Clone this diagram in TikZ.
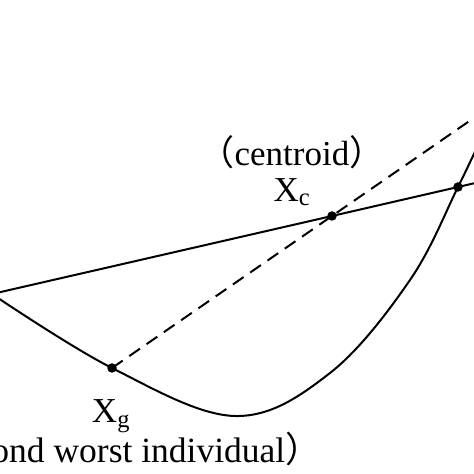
\documentclass[tikz,border=0pt]{standalone}
\usepackage{fontspec}
\setmainfont{Liberation Serif}
\newfontfamily\cjk{Noto Sans CJK SC}
\begin{document}
\begin{tikzpicture}[
  x=1pt, y=1pt,
  dot/.style={circle, fill, inner sep=0pt, minimum size=9.5pt},
  txt/.style={inner sep=0pt, font=\fontsize{35}{40}\selectfont},
  edge/.style={line width=2pt},
  guide/.style={line width=2pt, dash pattern=on 13pt off 8pt}
]
  \useasboundingbox (0,0) rectangle (474,474);
  \clip (0,0) rectangle (474,474);

  \coordinate (A) at (-8,180);
  \coordinate (M) at (235,58);
  \coordinate (Q) at (330,101);
  \coordinate (R) at (410,194);
  \coordinate (E) at (485,344);
  \coordinate (F) at (490,294.4);
  \coordinate (G) at (490,367.2);

  \node[dot] (xg) at (112,106) {};
  \node[dot] (xc) at (332,258) {};
  \node[dot] (xb) at (458,287) {};

  \draw[edge] (A) -- (xc.center) -- (xb.center) -- (F);
  \draw[guide] (xg.center) -- (xc.center) -- (G);
  \draw[edge] plot[smooth, tension=0.6] coordinates {(A) (xg.center) (M) (Q) (R) (xb.center) (E)};

  \node[txt] (cen) at (292,322) {{\cjk （}centroid{\cjk ）}};
  \node[txt, anchor=base] (xclab) at (292,272) {X\textsubscript{c}};
  \node[txt, anchor=base] (xglab) at (111,51) {X\textsubscript{g}};
  \node[txt, font=\fontsize{35.5}{40}\selectfont, anchor=base east] (worst) at (321,11) {{\cjk （}second worst individual{\cjk ）}};
\end{tikzpicture}
\end{document}
